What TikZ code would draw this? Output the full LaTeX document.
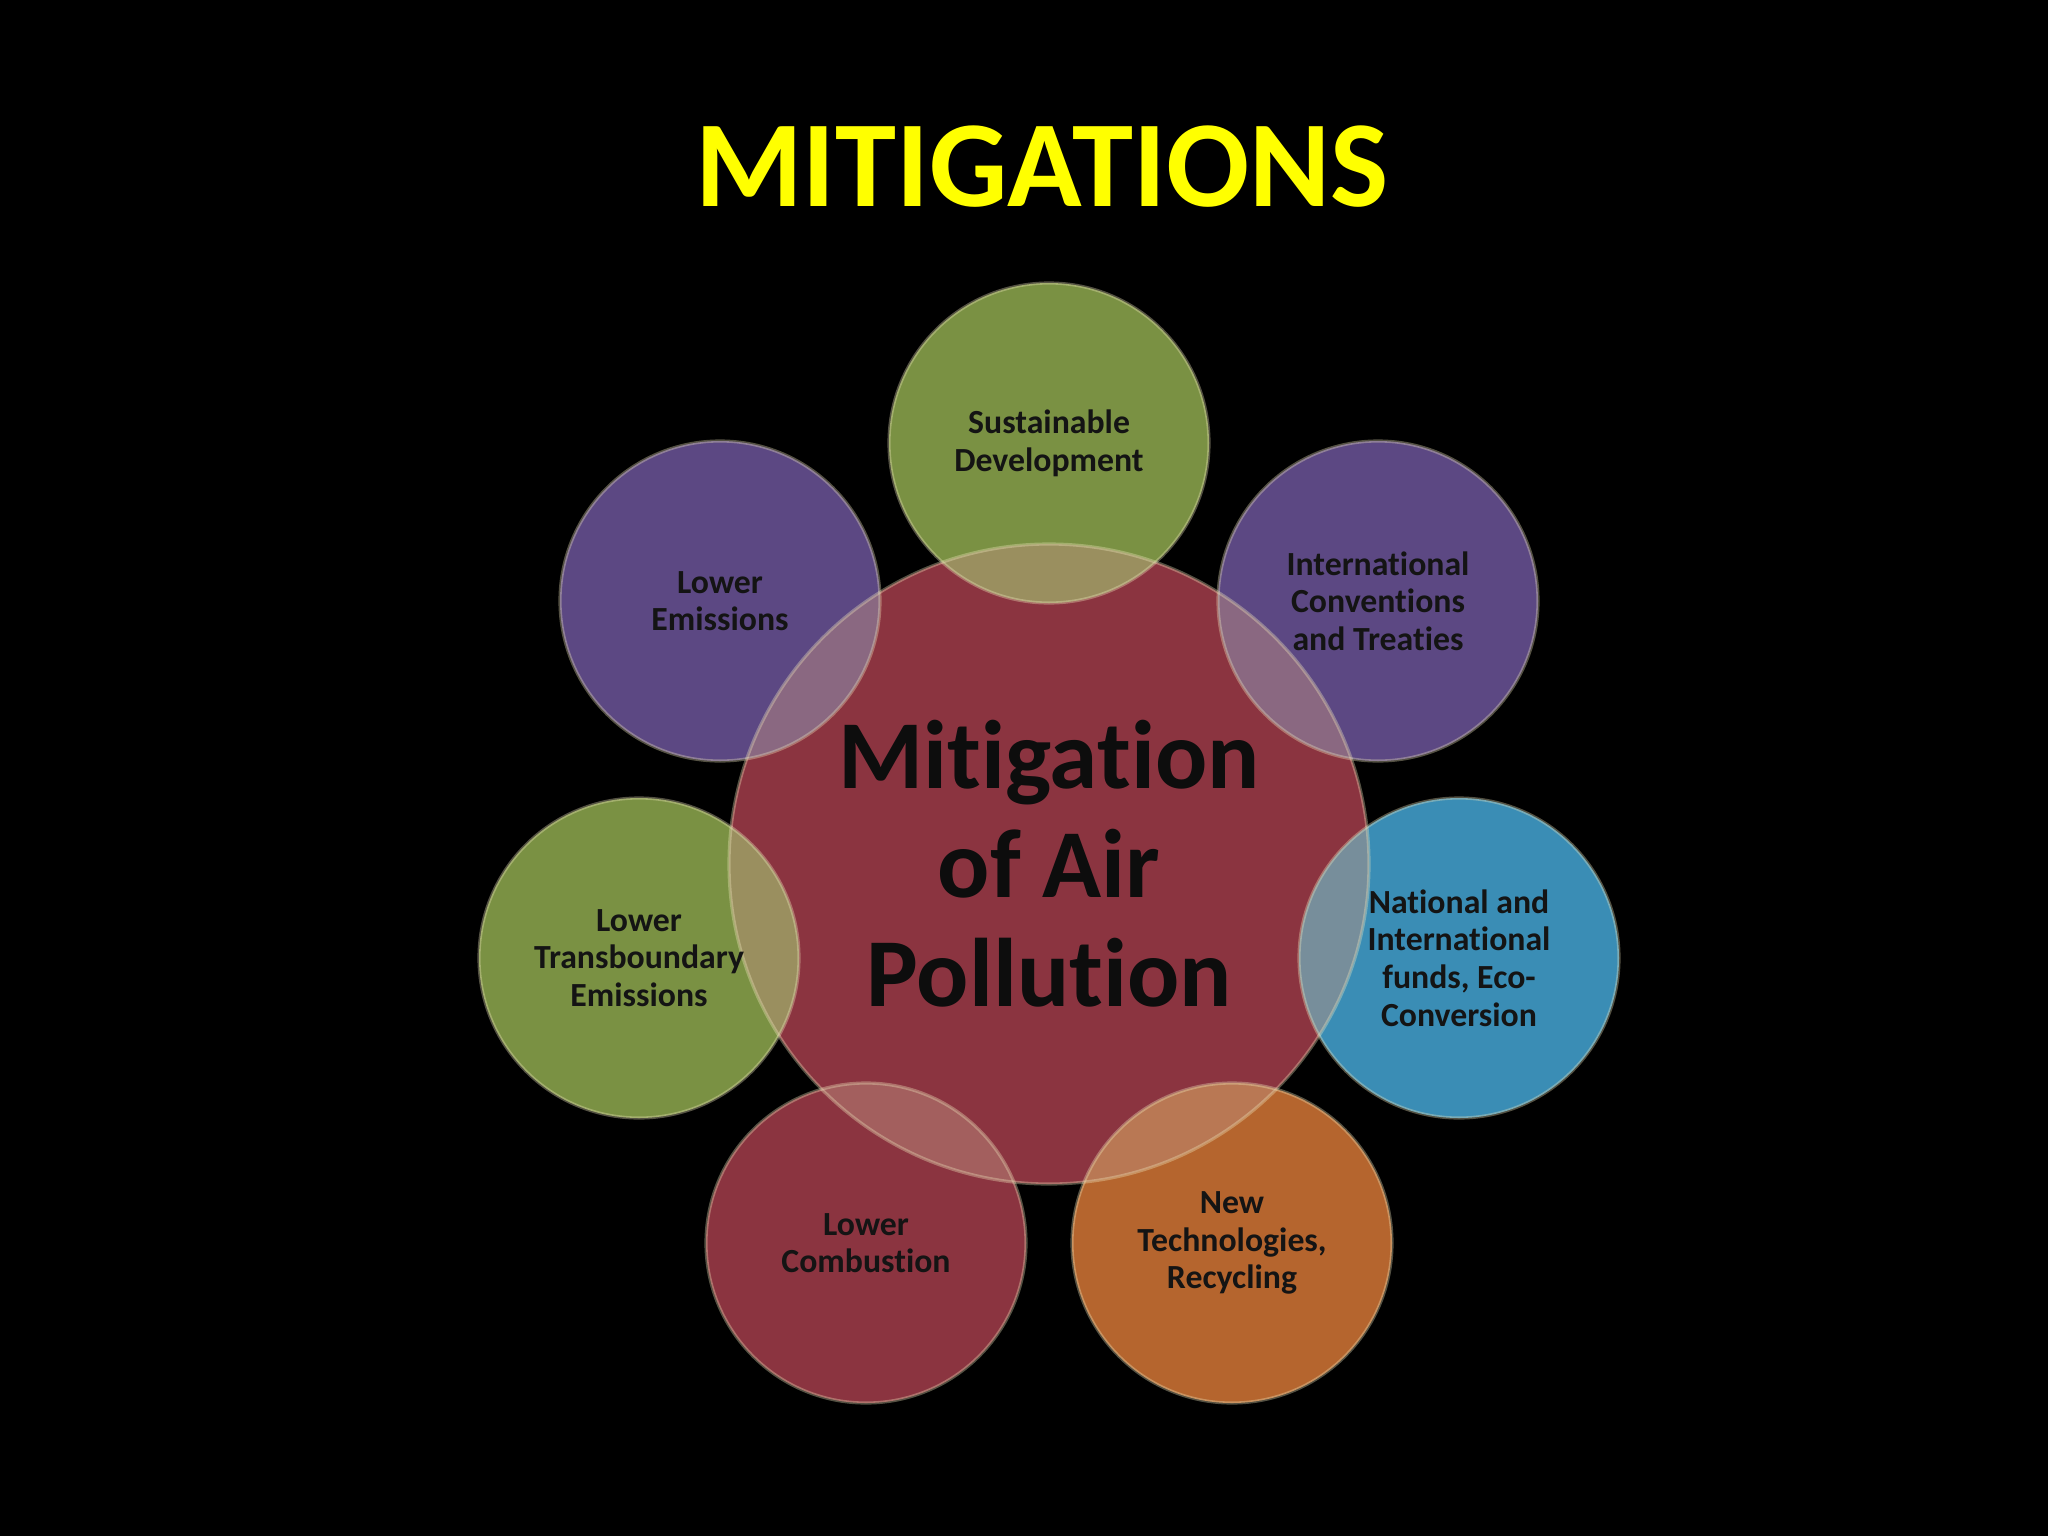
\documentclass[tikz,border=0pt]{standalone}
\usepackage{fontspec}
\setmainfont{Carlito}[Ligatures={NoCommon,NoRequired,NoContextual},Contextuals=NoAlternate]
\definecolor{mitred}{RGB}{139,52,64}
\definecolor{mitgreen}{RGB}{122,145,67}
\definecolor{mitpurple}{RGB}{92,72,131}
\definecolor{mitblue}{RGB}{58,141,181}
\definecolor{mitorange}{RGB}{181,101,46}
\definecolor{pale}{RGB}{240,232,190}
\definecolor{titleyellow}{RGB}{255,255,0}
\begin{document}
\begin{tikzpicture}[x=0.01cm,y=-0.01cm,
    rim/.style={draw=pale,draw opacity=.35,line width=.9pt},
    overlap/.style={fill=mitred,fill opacity=.3,postaction={fill=pale,fill opacity=.24}},
    bubtext/.style={align=center,text=black!92,font=\fontsize{9.6}{10.7}\selectfont\bfseries},
    bigtext/.style={align=center,text=black!95,font=\fontsize{27.7}{31}\selectfont\bfseries},
    headline/.style={text=titleyellow,font=\fontsize{35}{40}\selectfont\bfseries}]
    % Black slide
    \fill[black] (0,0) rectangle (2048,1536);
    \node[headline,anchor=base] (ttl) at (1042,206) {MITIGATIONS};

    % Bubble centres
    \coordinate (ctr) at (1049,864);
    \coordinate (sust) at (1049,443);
    \coordinate (lowem) at (720,601);
    \coordinate (lowtb) at (639,958);
    \coordinate (lowcomb) at (866,1243);
    \coordinate (newtech) at (1232,1243);
    \coordinate (natfund) at (1459,958);
    \coordinate (intconv) at (1378,601);

    % Bubbles
    \fill[mitred] (ctr) circle (320);
    \fill[mitgreen] (sust) circle (160);
    \fill[mitpurple] (lowem) circle (160);
    \fill[mitgreen] (lowtb) circle (160);
    \fill[mitred] (lowcomb) circle (160);
    \fill[mitorange] (newtech) circle (160);
    \fill[mitblue] (natfund) circle (160);
    \fill[mitpurple] (intconv) circle (160);

    % Lighter where they lie on the big one
    \begin{scope}
        \clip (ctr) circle (320);
        \fill[overlap] (sust) circle (160);
        \fill[overlap] (lowem) circle (160);
        \fill[overlap] (lowtb) circle (160);
        \fill[overlap] (lowcomb) circle (160);
        \fill[overlap] (newtech) circle (160);
        \fill[overlap] (natfund) circle (160);
        \fill[overlap] (intconv) circle (160);
    \end{scope}

    % Rims
    \draw[rim] (ctr) circle (320);
    \draw[rim] (sust) circle (160);
    \draw[rim] (lowem) circle (160);
    \draw[rim] (lowtb) circle (160);
    \draw[rim] (lowcomb) circle (160);
    \draw[rim] (newtech) circle (160);
    \draw[rim] (natfund) circle (160);
    \draw[rim] (intconv) circle (160);

    % Labels
    \node[bigtext] (ctrtxt) at (ctr) {Mitigation\\of Air\\Pollution};
    \node[bubtext] (susttxt) at (sust) {Sustainable\\Development};
    \node[bubtext] (lowemtxt) at (lowem) {Lower\\Emissions};
    \node[bubtext] (lowtbtxt) at (lowtb) {Lower\\Transboundary\\Emissions};
    \node[bubtext] (lowcombtxt) at (lowcomb) {Lower\\Combustion};
    \node[bubtext] (newtechtxt) at (newtech) {New\\Technologies,\\Recycling};
    \node[bubtext] (natfundtxt) at (natfund) {National and\\International\\funds, Eco-\\Conversion};
    \node[bubtext] (intconvtxt) at (intconv) {International\\Conventions\\and Treaties};
\end{tikzpicture}
\end{document}
